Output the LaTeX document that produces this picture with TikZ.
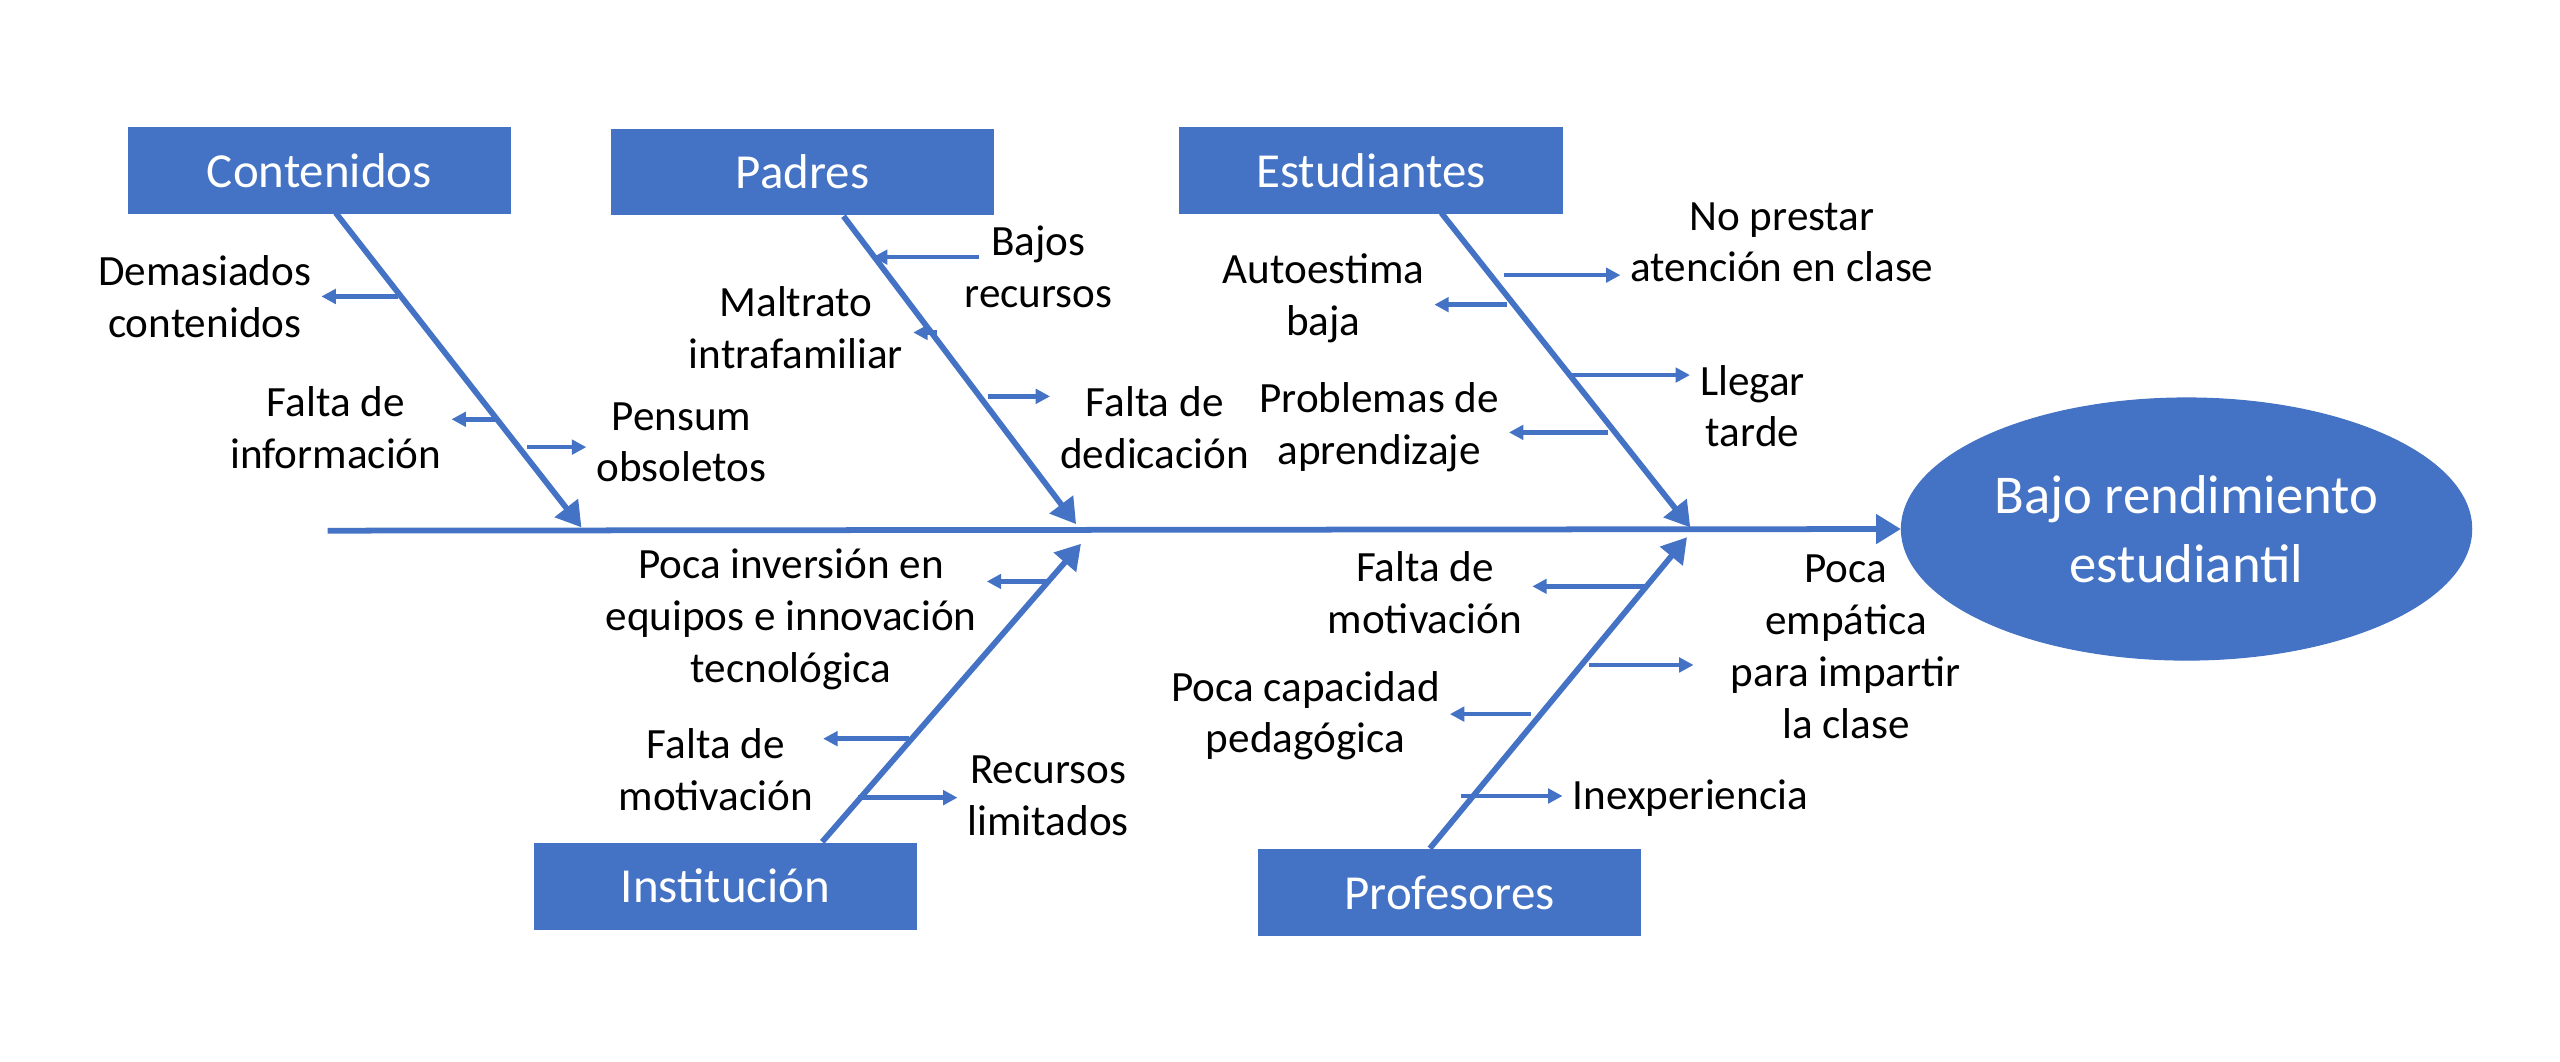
\documentclass[tikz,border=0pt]{standalone}
\usepackage{fontspec}
\setmainfont{Carlito}
\usetikzlibrary{arrows.meta, positioning, shapes.geometric}
\definecolor{uomblue}{HTML}{4472C4}
\tikzset{
  category/.style = {fill=uomblue, text=white, minimum width=234pt*0.02/0.03514,
                     minimum height=53pt*0.02/0.03514, font=\fontsize{17}{20}\selectfont},
  bone/.style = {line width=2pt, uomblue, arrows={-Triangle[]}},
  twig/.style = {line width=1.6pt, uomblue, arrows={-Triangle[length=5pt, width=5pt]}},
  cause/.style = {align=center, font=\fontsize{15}{18}\selectfont},
}
\begin{document}
\begin{tikzpicture}[x=0.02cm, y=-0.02cm]
  \useasboundingbox (0,0) rectangle (1563,648);

  %% Effect and spine
  \node [ellipse, fill=uomblue, draw=uomblue, text=white, minimum width=330*0.02cm,
         minimum height=160*0.02cm, align=center, font=\fontsize{19}{24}\selectfont]
        (effect) at (1335,323) {Bajo rendimiento\\estudiantil};
  \coordinate (tail) at (200,324);
  \draw [bone] (tail) -- (effect.west);

  %% Categories
  \node [category] (cont) at (195,104) {Contenidos};
  \node [category] (padr) at (490,105) {Padres};
  \node [category] (estu) at (837,104) {Estudiantes};
  \node [category] (inst) at (443,541) {Institución};
  \node [category] (prof) at (885,545) {Profesores};

  %% Main bones
  \coordinate (cont_end) at (355,322);
  \coordinate (padr_end) at (657,320);
  \coordinate (estu_end) at (1032,322);
  \coordinate (inst_end) at (660,332);
  \coordinate (prof_end) at (1030,328);
  \draw [bone] (205,130) -- (cont_end);
  \draw [bone] (515,132) -- (padr_end);
  \draw [bone] (880,130) -- (estu_end);
  \draw [bone] (502,514) -- (inst_end);
  \draw [bone] (873,518) -- (prof_end);

  %% Contenidos
  \node [cause] (c1) at (125,181) {Demasiados\\contenidos};
  \node [cause] (c2) at (205,261) {Falta de\\información};
  \node [cause] (c3) at (416,270) {Pensum\\obsoletos};
  \draw [twig] (243,181) -- (c1.east);
  \draw [twig] (303,256) -- (c2.east |- 0,256);
  \draw [twig] (322,273) -- (c3.west |- 0,273);

  %% Padres
  \node [cause] (p1) at (634,163) {Bajos\\recursos};
  \node [cause] (p2) at (486,200) {Maltrato\\intrafamiliar};
  \node [cause] (p3) at (705,261) {Falta de\\dedicación};
  \draw [twig] (598,157) -- (533,157);
  \draw [twig] (572,203) -- (p2.east |- 0,203);
  \draw [twig] (603,242) -- (p3.west |- 0,242);

  %% Estudiantes
  \node [cause] (e1) at (1088,148) {No prestar\\atención en clase};
  \node [cause] (e2) at (808,182) {Autoestima\\baja};
  \node [cause] (e3) at (1070,248) {Llegar\\tarde};
  \node [cause] (e4) at (842,261) {Problemas de\\aprendizaje};
  \draw [twig] (918,168) -- (e1.west |- 0,168);
  \draw [twig] (920,186) -- (e2.east |- 0,186);
  \draw [twig] (958,229) -- (e3.west |- 0,229);
  \draw [twig] (982,264) -- (e4.east |- 0,264);

  %% Institución
  \node [cause] (i1) at (483,378) {Poca inversión en\\equipos e innovación\\tecnológica};
  \node [cause] (i2) at (437,470) {Falta de\\motivación};
  \node [cause] (i3) at (640,486) {Recursos\\limitados};
  \draw [twig] (640,355) -- (i1.east |- 0,355);
  \draw [twig] (555,451) -- (i2.east |- 0,451);
  \draw [twig] (524,487) -- (i3.west |- 0,487);

  %% Profesores
  \node [cause] (f1) at (870,362) {Falta de\\motivación};
  \node [cause] (f2) at (1127,395) {Poca\\empática\\para impartir\\la clase};
  \node [cause] (f3) at (797,437) {Poca capacidad\\pedagógica};
  \node [cause] (f4) at (1032,487) {Inexperiencia};
  \draw [twig] (1005,358) -- (f1.east |- 0,358);
  \draw [twig] (970,406) -- (1034,406);
  \draw [twig] (935,436) -- (f3.east |- 0,436);
  \draw [twig] (892,486) -- (f4.west |- 0,486);
\end{tikzpicture}
\end{document}
